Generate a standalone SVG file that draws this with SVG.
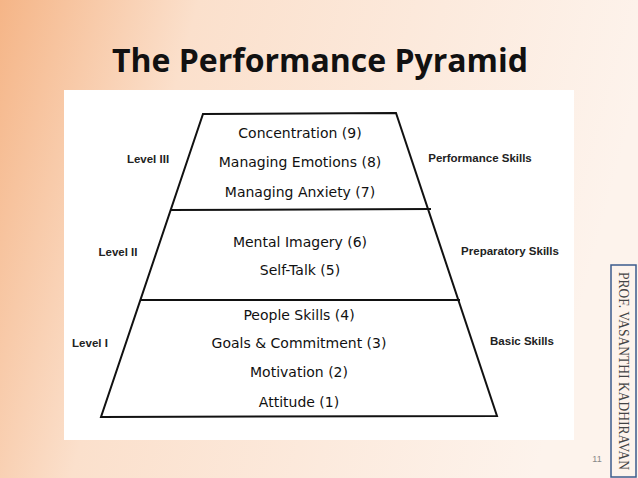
<svg xmlns="http://www.w3.org/2000/svg" width="638" height="478" viewBox="0 0 638 478">
<defs>
<linearGradient id="bg" x1="0" y1="0" x2="1" y2="0.2">
<stop offset="0" stop-color="#f5b587"/>
<stop offset="0.3" stop-color="#fbe0cc"/>
<stop offset="1" stop-color="#fdf3ec"/>
</linearGradient>
<style>
.t{font-family:"DejaVu Sans",sans-serif;font-size:14px;fill:#111;text-anchor:middle}
.l{font-family:"Liberation Sans",Arial,sans-serif;font-weight:bold;font-size:11.5px;fill:#222;text-anchor:middle}
.ln{stroke:#111;stroke-width:2;fill:none}
</style>
</defs>
<rect width="638" height="478" fill="url(#bg)"/>
<text x="320" y="72" font-family="Open Sans,sans-serif" font-weight="bold" font-size="32" text-anchor="middle" fill="#111">The Performance Pyramid</text>
<rect x="64" y="90" width="510" height="350" fill="#fff"/>
<g id="pyramid">
<polygon class="ln" points="203,114 396,113 497,416 101,417"/>
<line class="ln" x1="170" y1="210" x2="431" y2="209"/>
<line class="ln" x1="140" y1="300" x2="460" y2="300"/>
</g>
<g id="level3">
<text class="t" x="300" y="138">Concentration (9)</text>
<text class="t" x="300" y="167">Managing Emotions (8)</text>
<text class="t" x="300" y="197">Managing Anxiety (7)</text>
<text class="l" x="148" y="163">Level III</text>
<text class="l" x="480" y="162">Performance Skills</text>
</g>
<g id="level2">
<text class="t" x="300" y="247">Mental Imagery (6)</text>
<text class="t" x="300" y="275">Self-Talk (5)</text>
<text class="l" x="118" y="256">Level II</text>
<text class="l" x="510" y="255">Preparatory Skills</text>
</g>
<g id="level1">
<text class="t" x="299" y="320">People Skills (4)</text>
<text class="t" x="299" y="348">Goals &amp; Commitment (3)</text>
<text class="t" x="299" y="377">Motivation (2)</text>
<text class="t" x="299" y="407">Attitude (1)</text>
<text class="l" x="90" y="347">Level I</text>
<text class="l" x="522" y="345">Basic Skills</text>
</g>
<rect x="611" y="265" width="25" height="212" fill="none" stroke="#3b5b8c" stroke-width="1.5"/>
<text transform="translate(619,371) rotate(90)" font-family="Liberation Serif,serif" font-size="14" fill="#444" text-anchor="middle" textLength="198" lengthAdjust="spacingAndGlyphs">PROF. VASANTHI KADHIRAVAN</text>
<text x="597" y="462" font-family="Liberation Sans,sans-serif" font-size="9" fill="#888" text-anchor="middle">11</text>
</svg>
